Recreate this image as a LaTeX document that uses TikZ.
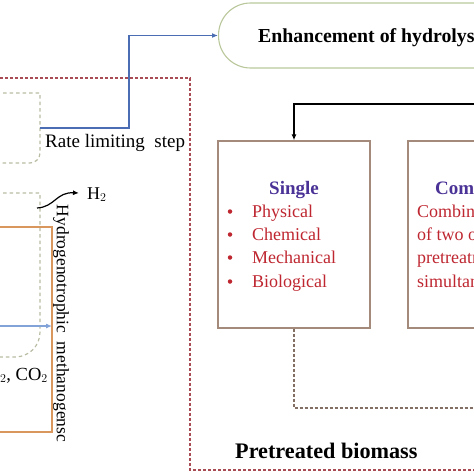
\documentclass[tikz,border=0pt]{standalone}
\usepackage{fontspec}
\setmainfont{Liberation Serif}
\usetikzlibrary{arrows.meta}
\definecolor{framered}{HTML}{A84B55}
\definecolor{boxbrown}{HTML}{A38A7A}
\definecolor{ellgreen}{HTML}{B9C79A}
\definecolor{greydash}{HTML}{B9BCA3}
\definecolor{orangebox}{HTML}{D9975E}
\definecolor{bluedark}{HTML}{4A6DB3}
\definecolor{bluelight}{HTML}{82A3D8}
\definecolor{headpurple}{HTML}{4A3296}
\definecolor{textred}{HTML}{BE2630}
\tikzset{
  txt/.style={inner sep=0pt, anchor=base west, font=\fontsize{18}{22}\selectfont},
  redtxt/.style={txt, text=textred},
  headtxt/.style={txt, text=headpurple, font=\fontsize{19}{22}\selectfont\bfseries},
  bul/.style={circle, fill=textred, inner sep=0pt, minimum size=4.5pt},
  pbox/.style={draw=boxbrown, line width=1.3pt, minimum width=152pt, minimum height=187pt, inner sep=0pt},
  framedash/.style={draw=framered, line width=1.2pt, dash pattern=on 3pt off 2pt},
  gdash/.style={draw=greydash, line width=1.2pt, dash pattern=on 3.5pt off 3pt},
  tip/.style={-{Latex[length=6pt,width=5pt]}}
}
\begin{document}
\begin{tikzpicture}[x=1pt,y=-1pt]
\useasboundingbox (0,0) rectangle (474,474);
\clip (0,0) rectangle (474,474);

% enhancement stadium
\node[draw=ellgreen, line width=1.1pt, rounded corners=32pt, minimum width=520pt, minimum height=65pt, anchor=west, inner sep=0pt] (enh) at (218,35.5) {};
\node[txt, font=\fontsize{19.8}{24}\selectfont\bfseries] (enhtxt) at (258,42) {Enhancement of hydrolysis};

% big dashed frame
\draw[framedash] (-10,78) -- (190,78) -- (190,470) -- (490,470);
\node[txt, font=\fontsize{22.2}{25}\selectfont\bfseries] (pretr) at (235,458) {Pretreated biomass};

% left grey dashed rectangles
\draw[gdash] (-10,93) -- (40,93) -- (40,153) .. controls (40,158.5) and (35.5,163) .. (30,163) -- (-10,163);
\draw[gdash] (-10,193) -- (40,193) -- (40,332) .. controls (40,346) and (29,357) .. (15,357) -- (-10,357);
\coordinate (hydE) at (40,128);

% orange box
\draw[draw=orangebox, line width=1.6pt] (-10,227) -- (52,227) -- (52,432) -- (-10,432);
\coordinate (orE) at (52,326);
\coordinate (blS) at (-10,326);
\draw[bluelight, line width=1.1pt, tip] (blS) -- (orE);

% rate limiting arrow
\coordinate (bend) at (129,128);
\draw[bluedark, line width=1.4pt, tip] (hydE) -- (bend) |- (enh.west);
\node[txt, font=\fontsize{19}{22}\selectfont] (rls) at (45,147) {Rate limiting\ \ step};

% H2 curved arrow
\coordinate (h2s) at (37,208);
\node[txt] (h2) at (87,199) {H$_2$};
\draw[black, line width=1.2pt, tip] (h2s) .. controls (55,207) and (56,192) .. (79,193);

% rotated text
\node[inner sep=0pt, rotate=-90, font=\fontsize{17.5}{20}\selectfont] (hydro) at (61,323.5) {Hydrogenotrophic\ \ methanogensc};

% H2 CO2
\node[inner sep=0pt, anchor=base east, font=\fontsize{18.5}{22}\selectfont] (hco) at (48,380) {H$_2$, CO$_2$};

% pretreatment boxes
\node[pbox] (single) at (294,234.5) {};
\node[pbox] (comb) at (484,234.5) {};

\coordinate (blkS) at (520,104);
\draw[black, line width=1.8pt, tip] (blkS) -| (single.north);
\coordinate (dotE) at (520,408);
\draw[draw=boxbrown!80!black, line width=1.2pt, dash pattern=on 3pt off 2pt] (single.south) |- (dotE);

% single text
\node[headtxt, anchor=base] (sgl) at (294,194) {Single};
\node[redtxt] (t1) at (252,217) {Physical};
\node[redtxt] (t2) at (252,240) {Chemical};
\node[redtxt] (t3) at (252,263) {Mechanical};
\node[redtxt] (t4) at (252,287) {Biological};
\node[bul] (b1) at (230,211.5) {};
\node[bul] (b2) at (230,234.5) {};
\node[bul] (b3) at (230,257.5) {};
\node[bul] (b4) at (230,281.5) {};

% combined text
\node[headtxt] (cmb) at (435,194) {Combined};
\node[redtxt] (c1) at (417,217) {Combination};
\node[redtxt] (c2) at (417,240) {of two or more};
\node[redtxt] (c3) at (417,263) {pretreatments};
\node[redtxt] (c4) at (417,287) {simultaneously};
\end{tikzpicture}
\end{document}
